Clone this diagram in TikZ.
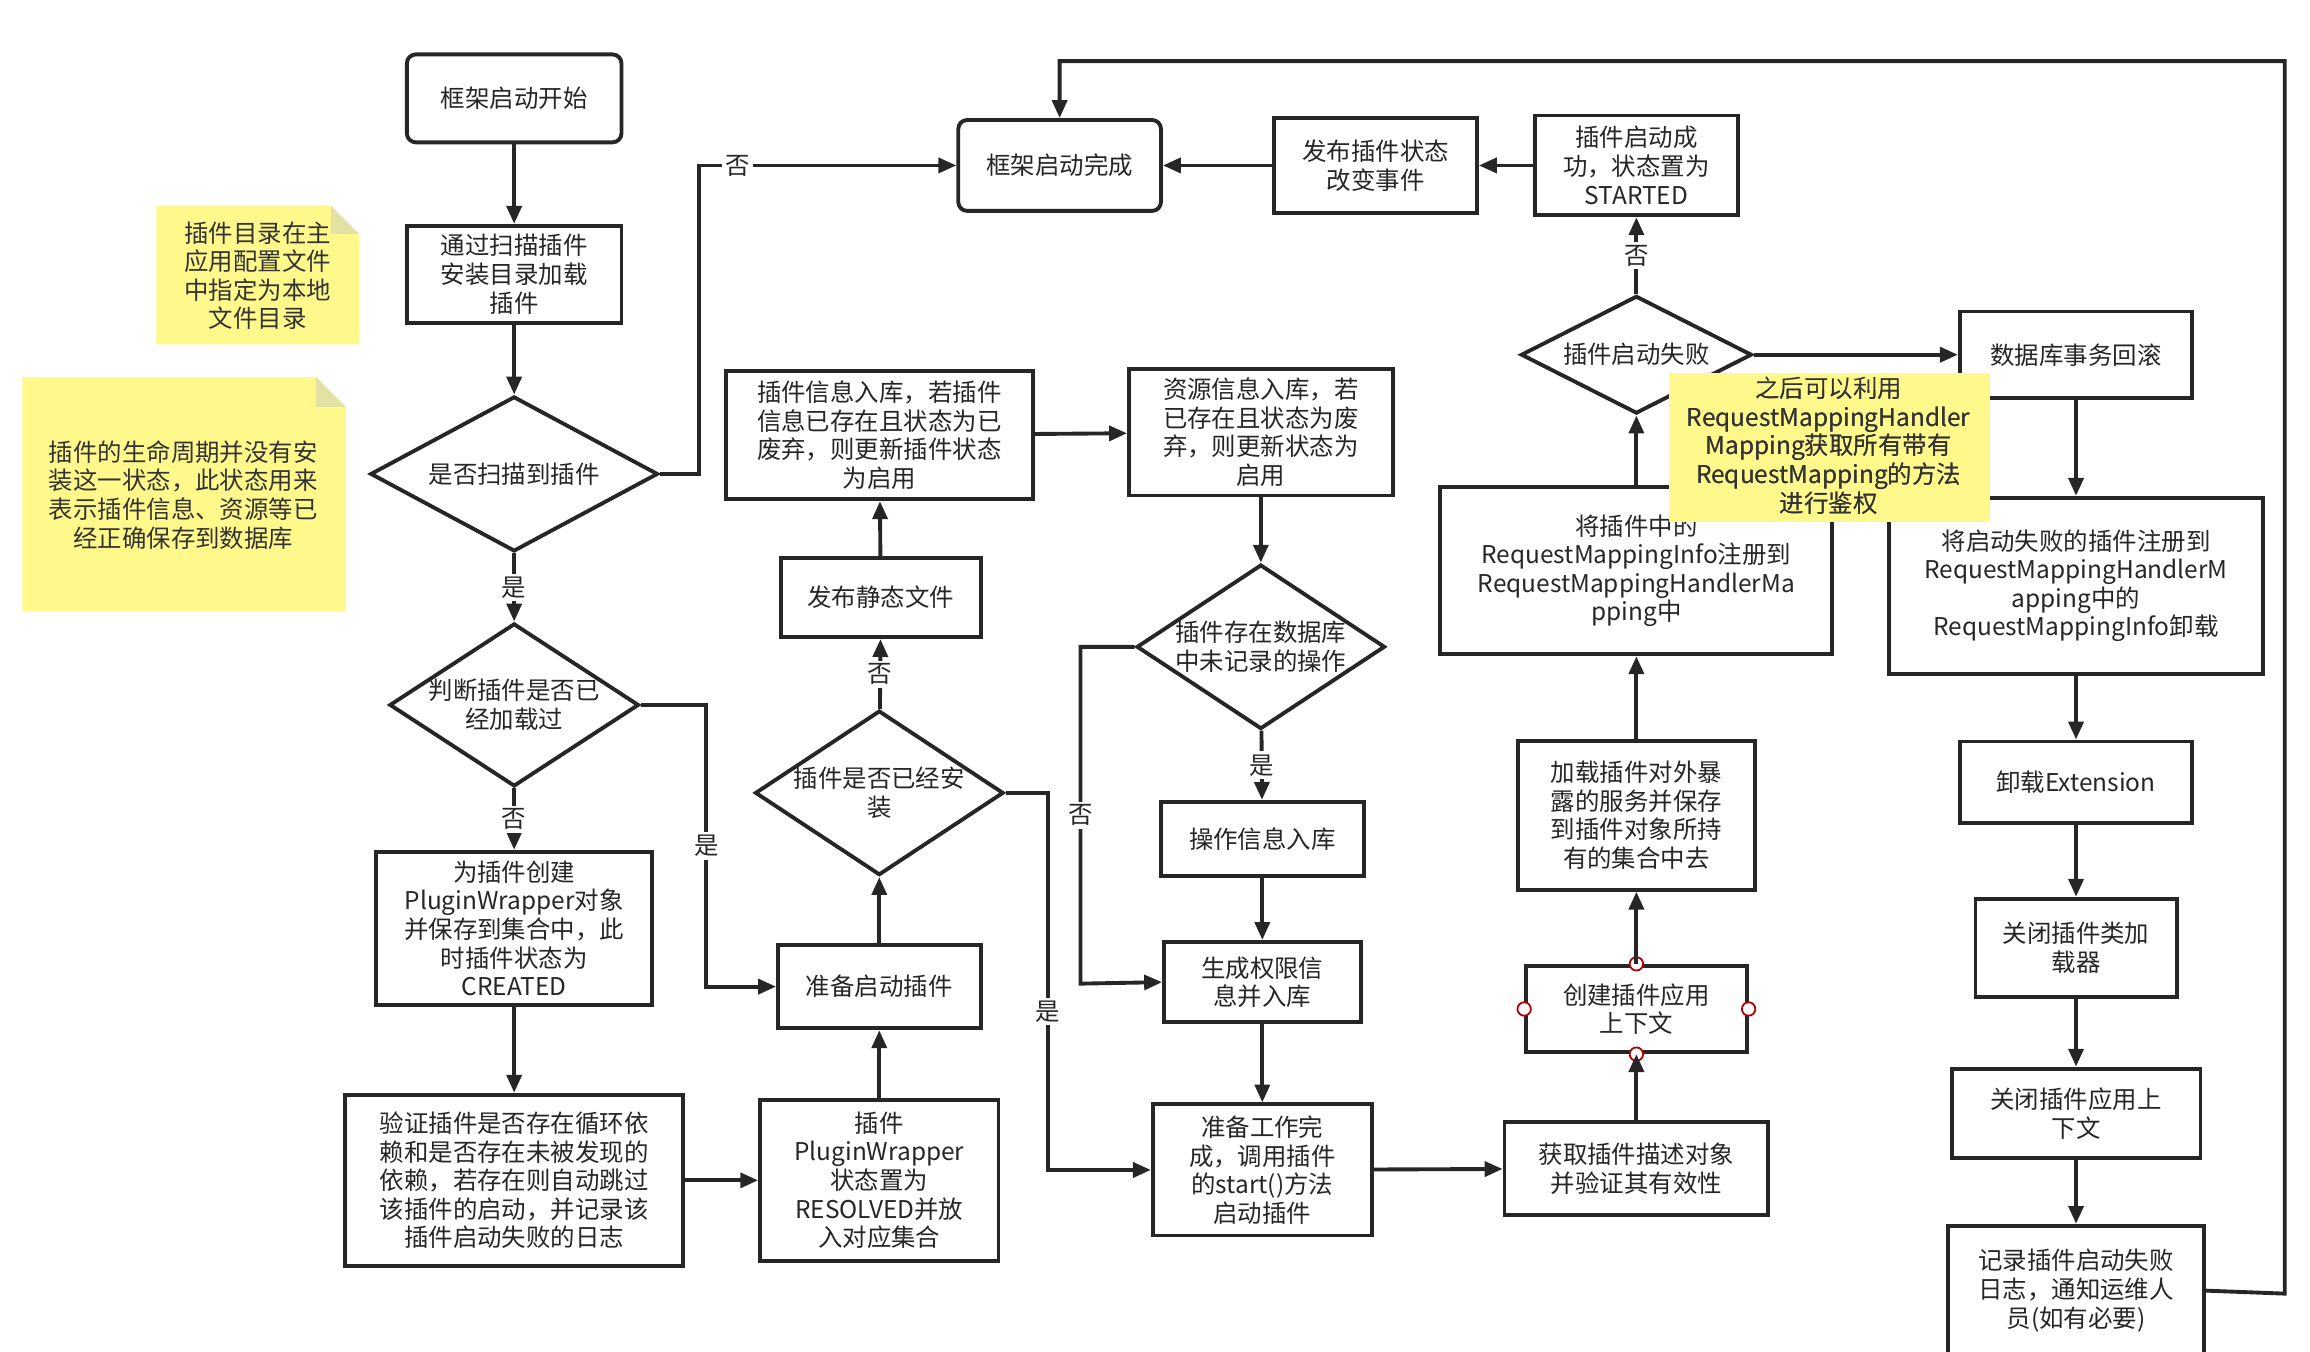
\documentclass[tikz,border=0pt]{standalone}
\usepackage{fontspec}
\setmainfont{Noto Sans CJK SC}
\usetikzlibrary{shapes.geometric,arrows.meta}
\begin{document}
\begin{tikzpicture}[x=0.5pt,y=-0.5pt,
  every node/.style={font=\fontsize{8.2}{9.6}\selectfont, text=black!85, align=center, inner sep=1pt},
  box/.style={draw=black!85, line width=1.3pt, fill=white},
  rbox/.style={box, rounded corners=3pt},
  dia/.style={draw=black!85, line width=1.3pt, fill=white, diamond, inner sep=0pt},
  note/.style={fill=yellow!45, text=black!80},
  ln/.style={draw=black!85, line width=1.3pt, -{Triangle[length=6pt,width=5pt]}},
  lb/.style={fill=white, inner sep=1pt}]
\useasboundingbox (0,0) rectangle (1550,907);
% notes
\fill[yellow!45] (105,138) -- (222,138) -- (241,157) -- (241,231) -- (105,231) -- cycle;
\fill[yellow!70!black!40] (222,138) -- (241,157) -- (222,157) -- cycle;
\node[note,fill=none] (n1) at (173,185) {插件目录在主\\应用配置文件\\中指定为本地\\文件目录};
\fill[yellow!45] (15,253) -- (212,253) -- (232,273) -- (232,410) -- (15,410) -- cycle;
\fill[yellow!70!black!40] (212,253) -- (232,273) -- (212,273) -- cycle;
\node[note,fill=none] (n2) at (123,332) {插件的生命周期并没有安\\装这一状态，此状态用来\\表示插件信息、资源等已\\经正确保存到数据库};
% nodes
\node[rbox, minimum width=72pt, minimum height=29.5pt] (start) at (345,66) {框架启动开始};
\node[box, minimum width=72pt, minimum height=32.5pt] (scan) at (345,184) {通过扫描插件\\安装目录加载\\插件};
\node[dia, minimum width=96.5pt, minimum height=52pt, aspect=1.86] (d1) at (345,318) {是否扫描到插件};
\node[dia, minimum width=82pt, minimum height=53.5pt, aspect=1.53] (d2) at (345,473) {判断插件是否已\\经加载过};
\node[box, minimum width=92.5pt, minimum height=51.5pt] (create) at (345,623) {为插件创建\\PluginWrapper对象\\并保存到集合中，此\\时插件状态为\\CREATED};
\node[box, minimum width=113.5pt, minimum height=57.5pt] (verify) at (345,792) {验证插件是否存在循环依\\赖和是否存在未被发现的\\依赖，若存在则自动跳过\\该插件的启动，并记录该\\插件启动失败的日志};
\node[box, minimum width=80pt, minimum height=54pt] (resolved) at (590,792) {插件\\PluginWrapper\\状态置为\\RESOLVED并放\\入对应集合};
\node[box, minimum width=68pt, minimum height=28pt] (prep) at (590,662) {准备启动插件};
\node[dia, minimum width=81.5pt, minimum height=54pt, aspect=1.51] (d3) at (590,532) {插件是否已经安\\装};
\node[box, minimum width=67pt, minimum height=26.5pt] (static) at (591,401) {发布静态文件};
\node[box, minimum width=103pt, minimum height=43pt] (dbinfo) at (590,292) {插件信息入库，若插件\\信息已存在且状态为已\\废弃，则更新插件状态\\为启用};
\node[box, minimum width=88.5pt, minimum height=42.5pt] (res) at (846,290) {资源信息入库，若\\已存在且状态为废\\弃，则更新状态为\\启用};
\node[dia, minimum width=81.5pt, minimum height=54pt, aspect=1.51] (d4) at (846,434) {插件存在数据库\\中未记录的操作};
\node[box, minimum width=68pt, minimum height=25pt] (op) at (847,563) {操作信息入库};
\node[box, minimum width=66pt, minimum height=27pt] (perm) at (847,659) {生成权限信\\息并入库};
\node[box, minimum width=73.5pt, minimum height=44pt] (work) at (847,785) {准备工作完\\成，调用插件\\的start()方法\\启动插件};
\node[box, minimum width=88.5pt, minimum height=31pt] (desc) at (1098,784) {获取插件描述对象\\并验证其有效性};
\node[box, minimum width=74pt, minimum height=29pt] (ctx) at (1098,677) {创建插件应用\\上下文};
\node[box, minimum width=79.5pt, minimum height=50pt] (expose) at (1098,547) {加载插件对外暴\\露的服务并保存\\到插件对象所持\\有的集合中去};
\node[box, minimum width=131.5pt, minimum height=56pt] (reg) at (1098,383) {将插件中的\\RequestMappingInfo注册到\\RequestMappingHandlerMa\\pping中};
\node[dia, minimum width=77.5pt, minimum height=39.5pt, aspect=1.96] (d5) at (1098,238) {插件启动失败};
\node[box, minimum width=68pt, minimum height=33.5pt] (succ) at (1098,111) {插件启动成\\功，状态置为\\STARTED};
\node[box, minimum width=68pt, minimum height=32pt] (evt) at (923,111) {发布插件状态\\改变事件};
\node[rbox, minimum width=68pt, minimum height=30.5pt] (done) at (711,111) {框架启动完成};
\node[box, minimum width=78pt, minimum height=29pt] (rb) at (1393,238) {数据库事务回滚};
\node[box, minimum width=125.5pt, minimum height=59pt] (unreg) at (1393,393) {将启动失败的插件注册到\\RequestMappingHandlerM\\apping中的\\RequestMappingInfo卸载};
\node[box, minimum width=78pt, minimum height=27.5pt] (ext) at (1393,525) {卸载Extension};
\node[box, minimum width=67.5pt, minimum height=33pt] (cl) at (1393,636) {关闭插件类加\\载器};
\node[box, minimum width=83.5pt, minimum height=30pt] (cc) at (1393,747) {关闭插件应用上\\下文};
\node[box, minimum width=86pt, minimum height=43.5pt] (log) at (1393,866) {记录插件启动失败\\日志，通知运维人\\员(如有必要)};
% note 3 (on top)
\fill[yellow!45] (1120,250) rectangle (1335,350);
\node[note,fill=none] (n3) at (1227,299) {之后可以利用\\RequestMappingHandler\\Mapping获取所有带有\\RequestMapping的方法\\进行鉴权};
% ctx circles
\foreach \a in {north,south,east,west}{\draw[red!70!black, line width=0.6pt, fill=white] (ctx.\a) circle (4.5);}
% coordinates
\coordinate (c1) at (469,318); \coordinate (c2) at (469,111);
\coordinate (c3) at (474,473); \coordinate (c4) at (474,662);
\coordinate (c5) at (725,434); \coordinate (c6) at (725,660);
\coordinate (c7) at (703,532); \coordinate (c8) at (703,785);
\coordinate (c9) at (1533,868); \coordinate (c10) at (1533,41); \coordinate (c11) at (711,41);
% edges
\draw[ln] (start) -- (scan);
\draw[ln] (scan) -- (d1);
\draw[ln] (d1.east) -- (c1) -- (c2) -- node[lb,pos=0.15] {否} (done.west);
\draw[ln] (d1) -- node[lb] {是} (d2);
\draw[ln] (d2) -- node[lb] {否} (create);
\draw[ln] (d2.east) -- (c3) -- node[lb,pos=0.5] {是} (c4) -- (prep.west);
\draw[ln] (create) -- (verify);
\draw[ln] (verify) -- (resolved);
\draw[ln] (resolved) -- (prep);
\draw[ln] (prep) -- (d3);
\draw[ln] (d3) -- node[lb] {否} (static);
\draw[ln] (static) -- (dbinfo);
\draw[ln] (dbinfo) -- (res);
\draw[ln] (res) -- (d4);
\draw[ln] (d4) -- node[lb] {是} (op);
\draw[ln] (d4.west) -- (c5) -- node[lb,pos=0.5] {否} (c6) -- (perm.west);
\draw[ln] (op) -- (perm);
\draw[ln] (perm) -- (work);
\draw[ln] (d3.east) -- (c7) -- node[lb,pos=0.58] {是} (c8) -- (work.west);
\draw[ln] (work) -- (desc);
\draw[ln] (desc) -- (ctx);
\draw[ln] (ctx) -- (expose);
\draw[ln] (expose) -- (reg);
\draw[ln] (reg) -- (d5);
\draw[ln] (d5) -- node[lb] {否} (succ);
\draw[ln] (d5) -- (rb);
\draw[ln] (succ) -- (evt);
\draw[ln] (evt) -- (done);
\draw[ln] (rb) -- (unreg);
\draw[ln] (unreg) -- (ext);
\draw[ln] (ext) -- (cl);
\draw[ln] (cl) -- (cc);
\draw[ln] (cc) -- (log);
\draw[ln] (log.east) -- (c9) -- (c10) -- (c11) -- (done.north);
% redraw note 3 over edge
\fill[yellow!45] (1180,250) rectangle (1335,262);
\node[note,fill=none] at (1227,299) {之后可以利用\\RequestMappingHandler\\Mapping获取所有带有\\RequestMapping的方法\\进行鉴权};
\end{tikzpicture}
\end{document}
